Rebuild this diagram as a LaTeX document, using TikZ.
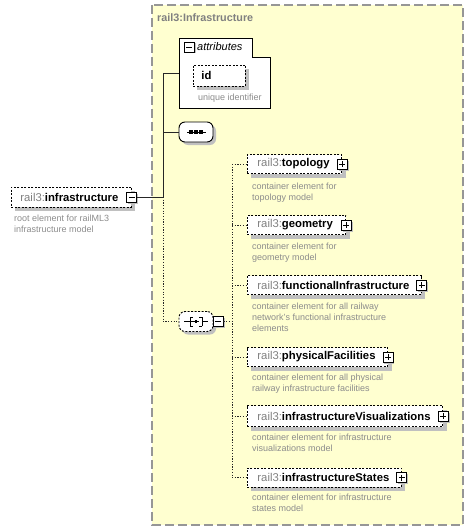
\documentclass[tikz,border=0pt]{standalone}
\usepackage{fontspec}
\setmainfont{Liberation Sans}
\usetikzlibrary{shadows}
\definecolor{bgyellow}{RGB}{255,255,208}
\definecolor{pregray}{RGB}{128,128,128}
\definecolor{descgray}{RGB}{140,140,140}
\definecolor{framegray}{RGB}{150,150,150}
\definecolor{shadegray}{RGB}{192,192,192}
\newcommand\rpre[1]{\textcolor{pregray}{#1}}
\tikzset{
  elem/.style={draw=black, dash pattern=on 2pt off 1.5pt, line width=0.9pt, fill=white,
    minimum height=19pt, inner xsep=0pt, inner ysep=0pt, anchor=west,
    font=\fontsize{11.3}{13}\selectfont,
    drop shadow={shadow xshift=4pt, shadow yshift=-4pt, fill=shadegray, opacity=1}},
  desc/.style={anchor=north west, align=left, inner sep=0pt, text=descgray,
    font=\fontsize{9}{11}\selectfont},
  pm/.style={draw=black, solid, fill=white, minimum size=10pt, inner sep=0pt, line width=0.8pt,
    drop shadow={shadow xshift=1.5pt, shadow yshift=-1.5pt, fill=shadegray, opacity=1}},
  plusbox/.style={pm, path picture={
    \draw[line width=0.8pt] ([xshift=2pt]path picture bounding box.west) -- ([xshift=-2pt]path picture bounding box.east)
      ([yshift=-2pt]path picture bounding box.north) -- ([yshift=2pt]path picture bounding box.south);}},
  minusbox/.style={pm, path picture={
    \draw[line width=0.8pt] ([xshift=2pt]path picture bounding box.west) -- ([xshift=-2pt]path picture bounding box.east);}},
  compbox/.style={draw=black, line width=0.9pt, fill=white, rounded corners=6pt,
    minimum width=34pt, minimum height=20pt, inner sep=0pt,
    drop shadow={shadow xshift=3pt, shadow yshift=-3pt, fill=shadegray, opacity=1}},
  conn/.style={line width=0.9pt, black!85},
  optconn/.style={conn, dash pattern=on 1.2pt off 1.5pt},
}
\begin{document}
\begin{tikzpicture}[x=1pt, y=-1pt]
\useasboundingbox (0,0) rectangle (474,532);

% container
\draw[fill=bgyellow, draw=framegray, line width=1.2pt, dash pattern=on 9pt off 4pt] (152,5) rectangle (463,525);
\node[anchor=west, inner sep=0pt, text=pregray, font=\fontsize{10.8}{12}\selectfont\bfseries] (hdr) at (157,18) {rail3:Infrastructure};

% root element
\node[elem, minimum height=20pt] (root) at (11,197) {\kern9pt\rpre{rail3:}\textbf{infrastructure}\kern13pt};
\node[minusbox] (rootm) at (root.east) {};
\node[desc] (rootd) at (14,215) {root element for railML3\\infrastructure model};

% attributes group
\draw[fill=white, line width=0.8pt] (179,108) -- (179,38) -- (252,38) -- (252,57) -- (270,57) -- (270,108) -- cycle;
\coordinate (attrin) at (179,73);
\node[minusbox] (attrm) at (189,47) {};
\node[anchor=west, inner sep=0pt, font=\fontsize{11}{13}\selectfont\itshape] (attrt) at (197,47) {attributes};
\node[elem, minimum height=21pt] (id) at (193,75.5) {\kern8pt\textbf{id}\kern34pt};
\node[desc] (idd) at (198,94) {unique identifier};

% sequence compositor
\node[compbox] (seq) at (196,132) {};
\draw[line width=0.9pt] ([xshift=-9pt]seq.center) -- ([xshift=10pt]seq.center);
\foreach \dx in {-5,0,5} \fill ([xshift=\dx pt]seq.center) ++(-1.6,-1.6) rectangle ++(3.2,3.2);

% choice compositor
\node[compbox, dash pattern=on 2pt off 1.5pt] (choice) at (196,321.5) {};
\begin{scope}[shift={(choice.center)}, line width=0.8pt]
  \draw (-12,0) -- (-6,0) (-6,-4.5) -- (-6,4.5) (-6,-4.5) -- (-3,-4.5) (-6,0) -- (3,0) (-6,4.5) -- (-3,4.5);
  \draw (6,-4.5) -- (6,4.5) (3,-4.5) -- (6,-4.5) (3,4.5) -- (6,4.5) (6,0) -- (12,0);
  \fill (-1.3,-1.3) rectangle (1.3,1.3);
\end{scope}
\node[minusbox] (choicem) at (218,321.5) {};

% child elements
\node[elem] (topo) at (247,164) {\kern10pt\rpre{rail3:}\textbf{topology}\kern12pt};
\node[plusbox] (topop) at (topo.east) {};
\node[desc] (topod) at (252,183) {container element for\\topology model};

\node[elem] (geo) at (247,225) {\kern10pt\rpre{rail3:}\textbf{geometry}\kern13pt};
\node[plusbox] (geop) at (geo.east) {};
\node[desc] (geod) at (252,243) {container element for\\geometry model};

\node[elem] (func) at (247,285) {\kern10pt\rpre{rail3:}\textbf{functionalInfrastructure}\kern12pt};
\node[plusbox] (funcp) at (func.east) {};
\node[desc] (funcd) at (252,303) {container element for all railway\\network's functional infrastructure\\elements};

\node[elem] (phys) at (247,357) {\kern10pt\rpre{rail3:}\textbf{physicalFacilities}\kern12pt};
\node[plusbox] (physp) at (phys.east) {};
\node[desc] (physd) at (252,374) {container element for all physical\\railway infrastructure facilities};

\node[elem, minimum height=21pt] (vis) at (247,416) {\kern10pt\rpre{rail3:}\textbf{infrastructureVisualizations}\kern12pt};
\node[plusbox] (visp) at (vis.east) {};
\node[desc] (visd) at (252,434) {container element for infrastructure\\visualizations model};

\node[elem] (states) at (247,477.5) {\kern10pt\rpre{rail3:}\textbf{infrastructureStates}\kern12pt};
\node[plusbox] (statesp) at (states.east) {};
\node[desc] (statesd) at (252,494) {container element for infrastructure\\states model};

% connectors
\coordinate (j1) at (163,197);
\coordinate (j2) at (232,321.5);
\draw[conn] (rootm.east) -- (j1);
\draw[conn] (j1) |- (attrin);
\draw[conn] (j1) |- (seq.west);
\draw[optconn] (j1) |- (choice.west);
\draw[optconn] (choicem.east) -- (j2);
\draw[optconn] (topo.west -| j2) -- (states.west -| j2);
\foreach \n in {topo,geo,func,phys,vis,states} \draw[optconn] (\n.west -| j2) -- (\n.west);
\end{tikzpicture}
\end{document}
